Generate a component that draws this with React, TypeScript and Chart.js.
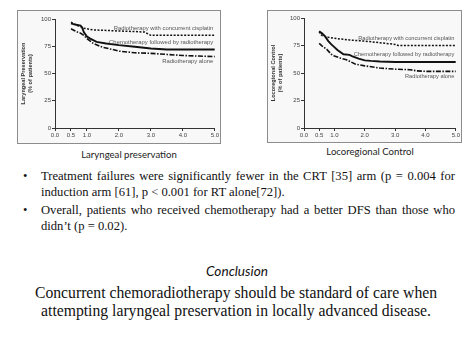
import React, { useEffect, useRef } from "react";
import { Chart, registerables } from "chart.js";
Chart.register(...registerables);

// ---- shared axis ticks ----
const xTickValues = [0, 0.5, 1, 2, 3, 4, 5];
const yTickValues = [0, 25, 50, 75, 100];
const seriesNames = [
  "Radiotherapy with concurrent cisplatin",
  "Chemotherapy followed by radiotherapy",
  "Radiotherapy alone",
];

// ---- Laryngeal preservation ----
const lpCisTimes = [0.5, 0.6, 0.7, 0.8, 0.9, 1.2, 1.6, 2.0, 2.5, 2.8, 3.0, 3.5, 4.0, 5.0];
const lpCisValues = [97, 95.5, 94, 93, 91.5, 90, 89.5, 89, 88.5, 88, 85, 85, 85, 85];
const lpChemoTimes = [0.5, 0.6, 0.7, 0.8, 0.85, 0.9, 1.0, 1.1, 1.3, 1.6, 2.0, 2.5, 3.0, 3.5, 4.0, 5.0];
const lpChemoValues = [96, 95, 94.5, 94, 92, 88, 84, 82, 79, 77.5, 76, 74.5, 73, 72, 72, 72];
const lpRtTimes = [0.5, 0.6, 0.7, 0.8, 0.9, 1.0, 1.2, 1.5, 1.8, 2.0, 2.5, 3.0, 3.5, 4.0, 4.5, 5.0];
const lpRtValues = [91, 89.5, 88, 87, 85, 82, 77.5, 74, 72, 70.5, 69, 68.5, 67.5, 66.5, 66, 65.5];
const lpLabelValues = [91.7, 79, 61.5];

// ---- Locoregional control ----
const lrCisTimes = [0.5, 0.55, 0.6, 0.8, 1.0, 1.5, 2.0, 2.5, 3.0, 3.1, 4.0, 5.0];
const lrCisValues = [87.5, 85, 84, 82.5, 81.5, 80, 79, 77.5, 76, 75, 75, 75];
const lrChemoTimes = [0.5, 0.6, 0.7, 0.8, 0.9, 1.0, 1.1, 1.3, 1.5, 1.6, 1.8, 2.0, 2.2, 2.5, 3.0, 4.0, 5.0];
const lrChemoValues = [88, 86, 83, 79, 76, 73.5, 71, 67, 66.5, 65, 63, 61.5, 61, 60.5, 60, 60, 60];
const lrRtTimes = [0.5, 0.6, 0.75, 0.9, 1.0, 1.2, 1.4, 1.7, 2.0, 2.5, 3.0, 3.5, 3.7, 4.0, 5.0];
const lrRtValues = [77, 74.5, 71.5, 67, 65.5, 63.5, 62, 58, 56.5, 54.5, 53.5, 53, 52, 51.5, 51.5];
const lrLabelValues = [81.8, 67, 47];

const labelX = 4.95;

type Series = { times: number[]; values: number[] };

function pts(s: Series) {
  return s.times.map((t, i) => ({ x: t, y: s.values[i] }));
}

function KMChart(props: {
  left: number; top: number; width: number; height: number;
  axisLeft: number; plotTop: number; plotBottom: number; plotRight: number;
  series: Series[]; labelValues: number[]; labelSize: number; yTitle: string[];
}) {
  const ref = useRef<HTMLCanvasElement>(null);
  useEffect(() => {
    const innerW = props.width - 2;
    const innerH = props.height - 2;
    const styles = [
      { dash: [2, 1.5], width: 1.5 },
      { dash: [], width: 1.9 },
      { dash: [5, 1.5, 1.5, 1.5], width: 1.6 },
    ];
    const labelPlugin = {
      id: "curveLabels",
      afterDatasetsDraw(chart: any) {
        const { ctx, scales } = chart;
        ctx.save();
        ctx.font = `${props.labelSize}px "Liberation Sans"`;
        ctx.fillStyle = "#555";
        ctx.textAlign = "right";
        ctx.textBaseline = "middle";
        seriesNames.forEach((t, i) => {
          ctx.fillText(t, scales.x.getPixelForValue(labelX), scales.y.getPixelForValue(props.labelValues[i]));
        });
        ctx.restore();
      },
    };
    const chart = new Chart(ref.current!, {
      type: "line",
      data: {
        datasets: props.series.map((s, i) => ({
          label: seriesNames[i],
          data: pts(s),
          borderColor: "#111",
          borderWidth: styles[i].width,
          borderDash: styles[i].dash,
          pointRadius: 0,
          fill: false,
          tension: 0,
        })),
      },
      options: {
        animation: false,
        responsive: false,
        maintainAspectRatio: false,
        layout: { padding: { top: props.plotTop, right: innerW - props.plotRight, left: 0, bottom: 0 } },
        plugins: { legend: { display: false }, tooltip: { enabled: false } },
        scales: {
          x: {
            type: "linear",
            min: 0,
            max: 5,
            afterBuildTicks: (scale: any) => {
              scale.ticks = xTickValues.map((v) => ({ value: v }));
            },
            afterFit: (scale: any) => {
              scale.height = innerH - props.plotBottom;
            },
            ticks: {
              callback: (v: any) => Number(v).toFixed(1),
              font: { size: 6, family: "Liberation Sans" },
              color: "#444",
              padding: 1,
              maxRotation: 0,
              autoSkip: false,
            },
            grid: { drawOnChartArea: false, tickLength: 3, color: "#333" },
            border: { color: "#333", width: 1 },
          },
          y: {
            type: "linear",
            min: 0,
            max: 100,
            afterBuildTicks: (scale: any) => {
              scale.ticks = yTickValues.map((v) => ({ value: v }));
            },
            afterFit: (scale: any) => {
              scale.width = props.axisLeft;
            },
            ticks: {
              font: { size: 6, family: "Liberation Sans" },
              color: "#444",
              padding: 1,
            },
            grid: { drawOnChartArea: false, tickLength: 3, color: "#333" },
            border: { color: "#333", width: 1 },
            title: {
              display: true,
              text: props.yTitle,
              font: { size: 5.6, family: "Liberation Sans", weight: "bold" },
              color: "#333",
              padding: { top: 2, bottom: 0 },
            },
          },
        },
      },
      plugins: [labelPlugin],
    } as any);
    return () => chart.destroy();
  }, []);
  return (
    <div
      style={{
        position: "absolute",
        left: props.left,
        top: props.top,
        width: props.width,
        height: props.height,
        boxSizing: "border-box",
        border: "1px solid #8c8c8c",
        background: "#f8f8f8",
      }}
    >
      <canvas
        ref={ref}
        width={props.width - 2}
        height={props.height - 2}
        style={{ position: "absolute", left: 0, top: 0, width: props.width - 2, height: props.height - 2 }}
      />
    </div>
  );
}

export default function App() {
  const serif = '"Liberation Serif", "Times New Roman", serif';
  const bulletFont = `12.6px ${serif}`;
  return (
    <div style={{ position: "fixed", left: 0, top: 0, width: 474, height: 355, background: "#fff", overflow: "hidden" }}>
      <KMChart
        left={17} top={10} width={204} height={134}
        axisLeft={37} plotTop={8} plotBottom={117} plotRight={197}
        series={[
          { times: lpCisTimes, values: lpCisValues },
          { times: lpChemoTimes, values: lpChemoValues },
          { times: lpRtTimes, values: lpRtValues },
        ]}
        labelValues={lpLabelValues}
        labelSize={5.9}
        yTitle={["Laryngeal Preservation", "(% of patients)"]}
      />
      <KMChart
        left={267} top={10} width={195} height={133}
        axisLeft={36} plotTop={7} plotBottom={117} plotRight={188}
        series={[
          { times: lrCisTimes, values: lrCisValues },
          { times: lrChemoTimes, values: lrChemoValues },
          { times: lrRtTimes, values: lrRtValues },
        ]}
        labelValues={lrLabelValues}
        labelSize={5.7}
        yTitle={["Locoregional Control", "(% of patients)"]}
      />
      <div style={{ position: "absolute", left: 79, width: 100, top: 149, textAlign: "center", font: '9.6px Lato, "Open Sans", sans-serif', color: "#222", whiteSpace: "nowrap" }}>
        Laryngeal preservation
      </div>
      <div style={{ position: "absolute", left: 320, width: 100, top: 146, textAlign: "center", font: '9.6px Lato, "Open Sans", sans-serif', color: "#222", whiteSpace: "nowrap" }}>
        Locoregional Control
      </div>

      <div style={{ position: "absolute", left: 23, top: 168, font: bulletFont, lineHeight: "16.3px", color: "#111" }}>•</div>
      <div style={{ position: "absolute", left: 41, top: 168, width: 414, font: bulletFont, lineHeight: "16.3px", color: "#111", textAlign: "justify" }}>
        Treatment failures were significantly fewer in the CRT [35] arm (p = 0.004 for induction arm [61], p &lt; 0.001 for RT alone[72]).
      </div>
      <div style={{ position: "absolute", left: 23, top: 202, font: bulletFont, lineHeight: "16.3px", color: "#111" }}>•</div>
      <div style={{ position: "absolute", left: 41, top: 202, width: 414, font: bulletFont, lineHeight: "16.3px", color: "#111", textAlign: "justify" }}>
        Overall, patients who received chemotherapy had a better DFS than those who didn’t (p = 0.02).
      </div>

      <div style={{ position: "absolute", left: 0, width: 474, top: 263, textAlign: "center", font: 'italic 13.6px Lato, "Open Sans", sans-serif', color: "#111" }}>
        Conclusion
      </div>
      <div style={{ position: "absolute", left: 0, width: 472, top: 284, textAlign: "center", font: `15.7px ${serif}`, lineHeight: "18px", color: "#111" }}>
        Concurrent chemoradiotherapy should be standard of care when
        <br />
        attempting laryngeal preservation in locally advanced disease.
      </div>
    </div>
  );
}
